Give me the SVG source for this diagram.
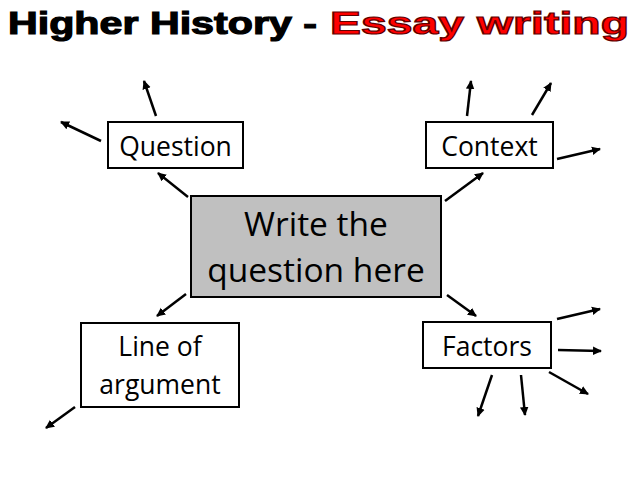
<svg xmlns="http://www.w3.org/2000/svg" width="638" height="478" viewBox="0 0 638 478">
<style>
.box{fill:#fff;stroke:#000;stroke-width:2}
.lbl{font-family:"Open Sans","Liberation Sans",sans-serif;font-size:26.5px;fill:#000;text-anchor:middle}
.big{font-size:33.5px}
.title{font-family:"Liberation Sans",Arial,sans-serif;font-weight:bold;font-size:32px}
.arr{stroke:#000;stroke-width:2.5;fill:none;marker-end:url(#ah)}
</style>
<defs>
<marker id="ah" markerWidth="4" markerHeight="4" refX="3.2" refY="2" orient="auto" markerUnits="strokeWidth">
<path d="M0,0.3 L3.6,2 L0,3.7 Z" fill="#000"/>
</marker>
</defs>
<g id="title">
<text class="title" x="8" y="34" fill="#000" stroke="#000" stroke-width="1.2" textLength="309" lengthAdjust="spacingAndGlyphs">Higher History -</text>
<text class="title" x="330" y="34" fill="#ff0000" stroke="#600000" stroke-width="1.2" textLength="299" lengthAdjust="spacingAndGlyphs">Essay writing</text>
</g>
<g id="center">
<rect x="191" y="196" width="250" height="101" fill="#c0c0c0" stroke="#000" stroke-width="2"/>
<text class="lbl big" x="316" y="236">Write the</text>
<text class="lbl big" x="316" y="282">question here</text>
</g>
<g id="question">
<rect class="box" x="108" y="122" width="135" height="46"/>
<text class="lbl" x="175.5" y="156">Question</text>
</g>
<g id="context">
<rect class="box" x="426" y="122" width="127" height="46"/>
<text class="lbl" x="489.5" y="156">Context</text>
</g>
<g id="line-of-argument">
<rect class="box" x="81" y="323" width="158" height="84"/>
<text class="lbl" x="160" y="356">Line of</text>
<text class="lbl" x="160" y="394">argument</text>
</g>
<g id="factors">
<rect class="box" x="423" y="322" width="128" height="46"/>
<text class="lbl" x="487" y="356">Factors</text>
</g>
<g id="connectors">
<line class="arr" x1="188" y1="197" x2="158" y2="173"/>
<line class="arr" x1="445" y1="201" x2="483" y2="173"/>
<line class="arr" x1="186" y1="294" x2="157" y2="316"/>
<line class="arr" x1="447" y1="295" x2="476" y2="316"/>
<line class="arr" x1="156" y1="116" x2="144" y2="81"/>
<line class="arr" x1="101" y1="141" x2="61" y2="122"/>
<line class="arr" x1="467" y1="116" x2="471" y2="81"/>
<line class="arr" x1="532" y1="115" x2="551" y2="83"/>
<line class="arr" x1="557" y1="159" x2="600" y2="149"/>
<line class="arr" x1="75" y1="407" x2="46" y2="428"/>
<line class="arr" x1="557" y1="319" x2="600" y2="309"/>
<line class="arr" x1="558" y1="350" x2="601" y2="351"/>
<line class="arr" x1="549" y1="372" x2="588" y2="394"/>
<line class="arr" x1="521" y1="375" x2="525" y2="415"/>
<line class="arr" x1="492" y1="375" x2="478" y2="416"/>
</g>
</svg>
